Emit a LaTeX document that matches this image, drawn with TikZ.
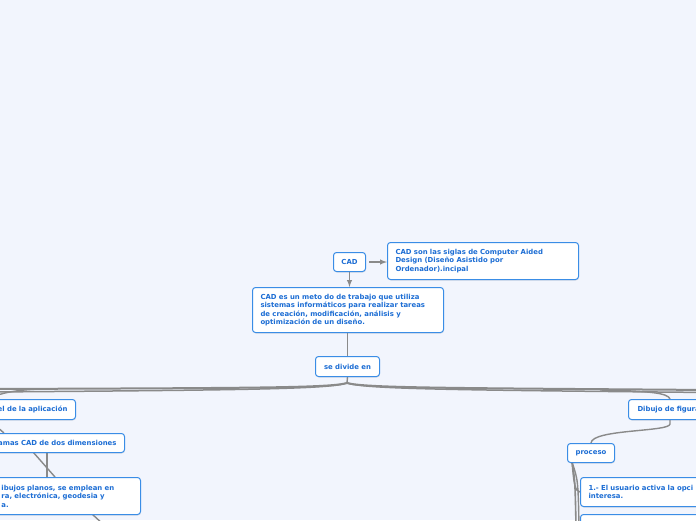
\documentclass[tikz,border=0pt]{standalone}
\usepackage{fontspec}
\setmainfont{DejaVu Sans}
\usetikzlibrary{positioning,shadows,backgrounds}
\definecolor{bgcol}{HTML}{F2F5FD}
\definecolor{boxline}{HTML}{3A8DE6}
\definecolor{boxtext}{HTML}{1C6DD4}
\definecolor{linkcol}{HTML}{8A8A8A}
\tikzset{
  topic/.style={draw=boxline, fill=white, line width=1pt, rounded corners=3pt,
    text=boxtext, font=\fontsize{6.9}{8.5}\selectfont\bfseries, inner xsep=8pt, inner ysep=2pt,
    drop shadow={shadow xshift=0.4pt, shadow yshift=-1pt, opacity=0.2}},
  link/.style={color=linkcol, line width=1.4pt},
  trunk/.style={color=linkcol, line width=2pt},
}
\begin{document}
\begin{tikzpicture}[x=1pt,y=-1pt,->,>=latex]

\useasboundingbox (0,0) rectangle (696,520);

\node (cad) [topic, anchor=north west, minimum width=32pt, minimum height=19pt, inner xsep=0pt] at (333,252) {CAD};
\node (sigla) [topic, anchor=north west, text width=175pt, minimum height=37pt, align=left] at (387,242) {CAD son las siglas de Computer Aided\\Design (Diseño Asistido por\\Ordenador).incipal};
\node (metodo) [topic, anchor=north west, text width=175pt, minimum height=45pt, align=left] at (252,287) {CAD es un meto do de trabajo que utiliza\\sistemas informáticos para realizar tareas\\de creación, modificación, análisis y\\optimización de un diseño.};
\node (divide) [topic, anchor=north west, minimum width=64pt, minimum height=20pt, inner xsep=0pt] at (315,356) {se divide en};

\node (nivel) [topic, anchor=north east, text width=90pt, minimum height=20pt, align=right] at (76,399) {el de la aplicación};
\node (dosdim) [topic, anchor=north east, text width=130pt, minimum height=19pt, align=right] at (125,433) {amas CAD de dos dimensiones};
\node (planos) [topic, anchor=north east, text width=130pt, minimum height=37pt, align=left, inner xsep=9pt] at (141,477) {ibujos planos, se emplean en\\ra, electrónica, geodesia y\\a.};

\node (dibujo) [topic, anchor=north west, text width=100pt, minimum height=20pt, align=left, inner xsep=9pt] at (628,399) {Dibujo de figura};
\node (proceso) [topic, anchor=north west, minimum width=47pt, minimum height=19pt, inner xsep=0pt] at (567,443) {proceso};
\node (paso1) [topic, anchor=north west, text width=120pt, minimum height=29pt, align=left] at (580,477) {1.- El usuario activa la opci\\interesa.};
\node (paso2) [topic, anchor=north west, minimum width=136pt, minimum height=30pt] at (580,514) {};

\node (fork) [coordinate] at (347,383) {};
\node (farleft) [coordinate] at (-10,389) {};
\node (farleft2) [coordinate] at (-10,392) {};
\node (farright) [coordinate] at (710,390) {};
\node (farright2) [coordinate] at (710,392.5) {};
\node (nivelfork) [coordinate] at (40,389) {};
\node (nivelin) [coordinate] at (-12,399) {};
\node (nivelout) [coordinate] at (-12,419) {};
\node (dosdimin) [coordinate] at (4,433) {};
\node (diagtop) [coordinate] at (33,452) {};
\node (diagbot) [coordinate] at (55,477) {};
\node (vtop) [coordinate] at (47,452) {};
\node (vbot) [coordinate] at (47,477) {};
\node (planosout) [coordinate] at (92,514) {};
\node (planosend) [coordinate] at (104,525) {};
\node (dibujofork) [coordinate] at (600,390) {};
\node (dibujoin) [coordinate] at (670,399) {};
\node (dibujoout) [coordinate] at (670,419) {};
\node (procout) [coordinate] at (572,462) {};
\node (procend) [coordinate] at (576,525) {};
\node (procend2) [coordinate] at (579,525) {};

\begin{pgfonlayer}{background}
\fill [bgcol] (0,0) rectangle (696,520);
\draw [link, ->, shorten <=3pt] (cad.east) -- (cad.east -| sigla.west);
\draw [link, ->] (cad.south) -- (cad.south |- metodo.north);
\path [link, -]
    (divide.north |- metodo.south) edge (divide.north)
    (divide.south) edge (fork)
    (nivelout) edge (dosdimin)
    (diagtop) edge (diagbot)
    (vtop) edge (vbot)
    (planosout) edge (planosend)
;
\draw [trunk, -] (fork) .. controls (330,388) and (250,388) .. (farleft);
\draw [trunk, -, line width=1.5pt] (fork) .. controls (330,389) and (250,390) .. (farleft2);
\draw [trunk, -] (fork) .. controls (365,388) and (450,388) .. (farright);
\draw [trunk, -, line width=1.5pt] (fork) .. controls (365,389) and (450,390) .. (farright2);
\draw [link, -] (nivelfork) .. controls (15,390) and (0,393) .. (nivelin);
\draw [link, -] (dibujofork) .. controls (650,391) and (668,393) .. (dibujoin);
\draw [link, -] (dibujoout) -- (670,424) .. controls (670,432) and (592,429) .. (proceso.north);
\draw [trunk, -, line width=1.6pt] (procout) .. controls (575,480) .. (procend);
\draw [trunk, -, line width=1.4pt] (procout) .. controls (578,480) .. (procend2);
\draw [link, -] (procout) .. controls (574,485) and (575,491) .. (paso1.west);
\end{pgfonlayer}

\end{tikzpicture}
\end{document}
